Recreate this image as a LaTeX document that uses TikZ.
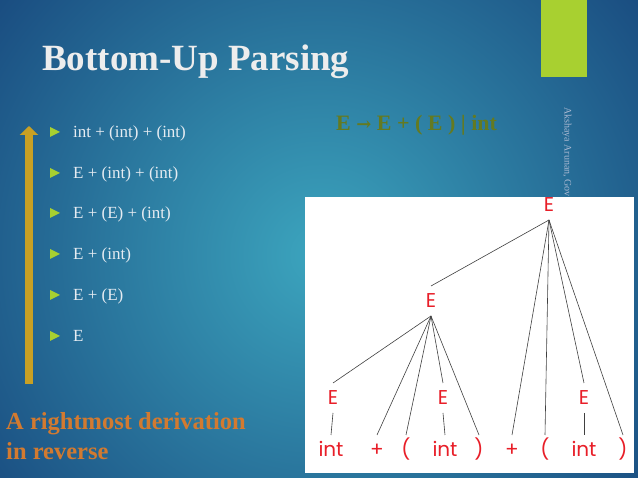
\documentclass[tikz,border=0pt]{standalone}
\usepackage{fontspec}
\setmainfont{Liberation Serif}
\newfontfamily\treefont{Poppins}
\newfontfamily\arrowfont{DejaVu Serif}
\usetikzlibrary{arrows.meta}
\definecolor{navy}{RGB}{10,36,100}
\definecolor{tealc}{RGB}{60,165,190}
\definecolor{lime}{RGB}{168,208,48}
\definecolor{gold}{RGB}{200,160,36}
\definecolor{olivec}{RGB}{100,122,32}
\definecolor{orangec}{RGB}{210,122,48}
\definecolor{treered}{RGB}{232,30,40}
\definecolor{auth}{RGB}{170,185,210}
\definecolor{itemc}{RGB}{230,236,242}
\begin{document}
\begin{tikzpicture}[x=1pt,y=-1pt,
  titletext/.style={font=\fontsize{37}{40}\selectfont\bfseries, text=white!93!black, anchor=base west, inner sep=0},
  item/.style={font=\fontsize{17}{20}\selectfont, text=itemc, anchor=base west, inner sep=0},
  bottomtext/.style={font=\fontsize{24.5}{30}\selectfont\bfseries, text=orangec, anchor=base west, inner sep=0},
  tok/.style={font=\treefont\fontsize{20}{22}\selectfont, text=treered, text height=14pt, text depth=0pt, inner xsep=1pt, inner ysep=0pt, outer ysep=8pt, anchor=base},
  treeline/.style={draw=black!75, line width=0.6pt},
  bullet/.style={fill=lime}
]
\useasboundingbox (0,0) rectangle (638,478);
\fill[navy] (0,0) rectangle (638,478);
\begin{scope}
  \clip (0,0) rectangle (638,478);
  \shade[inner color=tealc, outer color=navy] (320,255) circle (600);
\end{scope}
% green bar
\fill[lime] (541,0) rectangle (587,77);
% title
\node[titletext] (title) at (42,71) {Bottom-Up Parsing};
% grammar
\node[font=\fontsize{22}{24}\selectfont\bfseries, text=olivec, anchor=base west, inner sep=0] (gram) at (336,131) {E {\arrowfont\fontsize{18}{20}\selectfont →} E + ( E ) | int};
% author
\node[font=\fontsize{10}{12}\selectfont, text=auth, rotate=-90, anchor=west, inner sep=0] (auth) at (567,107) {Akshaya Arunan, Gov};
% arrow
\draw[gold, line width=8pt, -{Triangle[width=18pt,length=9pt]}] (29,384) -- (29,126);
% bullets
\foreach \yy/\txt [count=\i] in {132/{int + (int) + (int)}, 173/{E + (int) + (int)}, 213/{E + (E) + (int)}, 254/{E + (int)}, 295/{E + (E)}, 336/{E}} {
  \fill[bullet] (50,\yy-5) -- (60,\yy) -- (50,\yy+5) -- cycle;
  \node[item] (item\i) at (73,\yy+5.5) {\txt};
}
% bottom text
\node[bottomtext] (bt1) at (6,430) {A rightmost derivation};
\node[bottomtext] (bt2) at (6,460) {in reverse};
% white box
\fill[white] (305,197) rectangle (634,473);
% tree
\node[tok] (r) at (549,212) {E};
\node[tok] (m) at (431,308) {E};
\node[tok] (e1) at (333,405) {E};
\node[tok] (e2) at (443,405) {E};
\node[tok] (e3) at (584,405) {E};
\node[tok] (t1) at (331,457) {int};
\node[tok] (t2) at (377,457) {+};
\node[tok] (t3) at (406,457) {(};
\node[tok] (t4) at (445,457) {int};
\node[tok] (t5) at (479,457) {)};
\node[tok] (t6) at (512,457) {+};
\node[tok] (t7) at (545,457) {(};
\node[tok] (t8) at (584,457) {int};
\node[tok] (t9) at (623,457) {)};
\foreach \c in {m,t6,t7,e3,t9} \draw[treeline] (r.south) -- (\c.north);
\foreach \c in {e1,t2,t3,e2,t5} \draw[treeline] (m.south) -- (\c.north);
\draw[treeline] (e1.south) -- (t1.north);
\draw[treeline] (e2.south) -- (t4.north);
\draw[treeline] (e3.south) -- (t8.north);
\end{tikzpicture}
\end{document}
